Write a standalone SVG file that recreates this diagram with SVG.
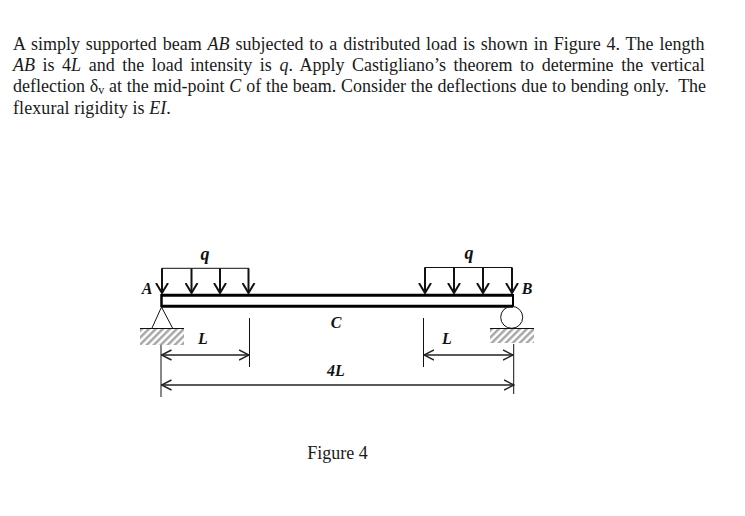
<svg xmlns="http://www.w3.org/2000/svg" width="745" height="516" viewBox="0 0 745 516">
<style>
text{font-family:"Liberation Serif","Times New Roman",serif;fill:#1a1a1a}
.b{font-size:18px}
.i{font-style:italic}
.l{font-size:16px;font-weight:bold;font-style:italic;text-anchor:middle;fill:#111}
.q{font-size:18px}
.t{stroke:#111;stroke-width:1;fill:none}
.a{stroke:#111;stroke-width:2;fill:none;marker-end:url(#ah)}
.d{stroke:#222;stroke-width:1.3;fill:none;marker-start:url(#dh);marker-end:url(#dh)}
</style>
<defs>
<marker id="ah" viewBox="-10 -7 11 14" refX="0" refY="0" markerUnits="userSpaceOnUse" markerWidth="11" markerHeight="14" orient="auto"><path d="M-10-6L0 0L-10 6" fill="none" stroke="#111" stroke-width="2"/></marker>
<marker id="dh" viewBox="-10 -6 11 12" refX="0" refY="0" markerUnits="userSpaceOnUse" markerWidth="11" markerHeight="12" orient="auto-start-reverse"><path d="M-10-5L0 0L-10 5" fill="none" stroke="#222" stroke-width="1.500"/></marker>
<pattern id="h" width="7" height="16" patternUnits="userSpaceOnUse" patternTransform="skewX(-45)"><rect width="7" height="16" fill="#fff"/><rect width="3.500" height="16" fill="#a8a8a8"/></pattern>
</defs>
<g id="problem-text" class="b">
<text x="13" y="49.500" style="word-spacing:1.4px">A simply supported beam <tspan class="i">AB</tspan> subjected to a distributed load is shown in Figure 4. The length</text>
<text x="13" y="70.500" style="word-spacing:3.05px"><tspan class="i">AB</tspan> is 4<tspan class="i">L</tspan> and the load intensity is <tspan class="i">q</tspan>. Apply Castigliano’s theorem to determine the vertical</text>
<text x="13" y="92" style="word-spacing:0.28px">deflection δ<tspan font-size="12" dy="2">v</tspan><tspan dy="-2"> at the mid-point </tspan><tspan class="i">C</tspan> of the beam. Consider the deflections due to bending only.&#160; The</text>
<text x="13" y="113.500" style="letter-spacing:0.08px">flexural rigidity is <tspan class="i">EI</tspan>.</text>
</g>
<g id="beam">
<path d="M161 295.300H513M161 306.300H513" stroke="#000" stroke-width="3" fill="none"/>
<path d="M161.500 294V307" stroke="#000" stroke-width="2.500" fill="none"/>
<path d="M513 294V307" stroke="#000" stroke-width="2" fill="none"/>
</g>
<g id="support-A">
<path class="t" d="M161.500 307L152 328M161.500 307L172.500 328"/>
<rect x="140" y="329" width="44" height="16" fill="url(#h)"/>
<path class="t" d="M140 328.500H184"/>
</g>
<g id="support-B">
<circle class="t" cx="511.700" cy="317.300" r="11"/>
<rect x="490" y="329" width="44" height="14" fill="url(#h)"/>
<path class="t" d="M490 328.500H534"/>
</g>
<g id="connectors">
<path class="t" d="M161.700 268.300H249M424.700 267.500H512"/>
<path class="a" d="M162 268.300V293"/><path class="a" d="M191.500 268.300V293"/><path class="a" d="M220 268.300V293"/><path class="a" d="M248.500 268.300V293"/>
<path class="a" d="M425 267.500V293"/><path class="a" d="M454 267.500V293"/><path class="a" d="M483 267.500V293"/><path class="a" d="M512 267.500V293"/>
<path class="t" d="M161 345V397M249.500 318V367M423.500 318V367M513.700 344V394"/>
<path class="d" d="M161.500 355H249"/>
<path class="d" d="M424 355H513"/>
<path class="d" d="M161.500 385H514"/>
</g>
<g id="labels">
<text class="l q" x="205" y="260">q</text>
<text class="l q" x="469" y="259">q</text>
<text class="l" x="147" y="294">A</text>
<text class="l" x="527" y="294">B</text>
<text class="l" x="336" y="327.500">C</text>
<text class="l" x="203" y="344">L</text>
<text class="l" x="447" y="344">L</text>
<text class="l" x="336" y="376">4L</text>
<text x="337.500" y="458.500" font-size="18" text-anchor="middle">Figure 4</text>
</g>
</svg>
